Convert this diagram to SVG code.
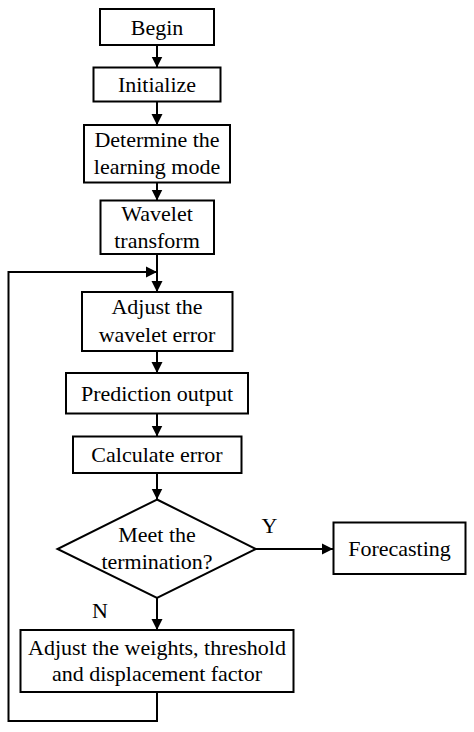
<svg xmlns="http://www.w3.org/2000/svg" width="474" height="732" viewBox="0 0 474 732">
<style>
.box{fill:#fff;stroke:#000;stroke-width:2}
.t{font-family:"Liberation Serif","Times New Roman",serif;font-size:22px;fill:#000;text-anchor:middle}
.c{fill:none;stroke:#000;stroke-width:2}
</style>
<defs>
<marker id="ah" markerUnits="userSpaceOnUse" markerWidth="12" markerHeight="12" viewBox="0 0 12 12" refX="11" refY="6" orient="auto">
<path d="M0,0.5 L11,6 L0,11.5 Z" fill="#000"/>
</marker>
</defs>
<rect width="474" height="732" fill="#fff"/>
<g id="connectors">
<line class="c" x1="157" y1="45" x2="157" y2="67.5" marker-end="url(#ah)"/>
<line class="c" x1="157" y1="101.5" x2="157" y2="125" marker-end="url(#ah)"/>
<line class="c" x1="157" y1="182.5" x2="157" y2="200.5" marker-end="url(#ah)"/>
<line class="c" x1="157" y1="254" x2="157" y2="292" marker-end="url(#ah)"/>
<polyline class="c" points="157,692 157,721 8.5,721 8.5,272 157,272" marker-end="url(#ah)"/>
<line class="c" x1="157" y1="351" x2="157" y2="373" marker-end="url(#ah)"/>
<line class="c" x1="157" y1="413.5" x2="157" y2="436.5" marker-end="url(#ah)"/>
<line class="c" x1="157" y1="473" x2="157" y2="499.5" marker-end="url(#ah)"/>
<line class="c" x1="256" y1="549" x2="333" y2="549" marker-end="url(#ah)"/>
<line class="c" x1="157" y1="598" x2="157" y2="630" marker-end="url(#ah)"/>
<text class="t" x="269.5" y="532.5">Y</text>
<text class="t" x="100" y="618">N</text>
</g>
<g id="begin">
<rect class="box" x="100" y="9" width="114" height="36"/>
<text class="t" x="157" y="34.5">Begin</text>
</g>
<g id="initialize">
<rect class="box" x="93.5" y="67.5" width="127" height="34"/>
<text class="t" x="157" y="91.5">Initialize</text>
</g>
<g id="determine">
<rect class="box" x="84" y="125" width="146" height="57.5"/>
<text class="t" x="157" y="146.5">Determine the</text>
<text class="t" x="157" y="174">learning mode</text>
</g>
<g id="wavelet">
<rect class="box" x="100.5" y="200.5" width="113.5" height="53.5"/>
<text class="t" x="157" y="221">Wavelet</text>
<text class="t" x="157" y="247.5">transform</text>
</g>
<g id="adjust-wavelet">
<rect class="box" x="82" y="292" width="150.5" height="59"/>
<text class="t" x="157" y="314">Adjust the</text>
<text class="t" x="157" y="342">wavelet error</text>
</g>
<g id="prediction">
<rect class="box" x="66" y="373" width="182" height="40.5"/>
<text class="t" x="157" y="400.5">Prediction output</text>
</g>
<g id="calculate">
<rect class="box" x="73" y="436.5" width="168.5" height="36.5"/>
<text class="t" x="157" y="462">Calculate error</text>
</g>
<g id="decision">
<polygon class="box" points="157,499.5 256,549 157,598 57.5,549"/>
<text class="t" x="157" y="542">Meet the</text>
<text class="t" x="157" y="568.5">termination?</text>
</g>
<g id="forecasting">
<rect class="box" x="333.5" y="522.5" width="132" height="51.5"/>
<text class="t" x="399.5" y="555.5">Forecasting</text>
</g>
<g id="adjust-weights">
<rect class="box" x="20.5" y="630" width="273" height="62"/>
<text class="t" x="157" y="655">Adjust the weights, threshold</text>
<text class="t" x="157" y="681">and displacement factor</text>
</g>
</svg>
